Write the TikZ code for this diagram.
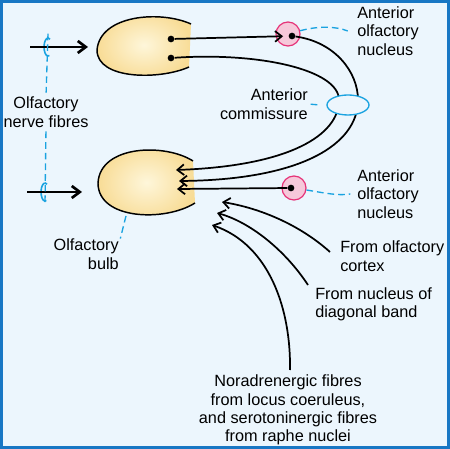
\documentclass[tikz,border=0pt]{standalone}
\usepackage{fontspec}
\setmainfont{Liberation Sans}
\usetikzlibrary{arrows.meta}
\definecolor{framecol}{RGB}{24,119,196}
\definecolor{bgcol}{RGB}{236,246,253}
\definecolor{leadcol}{RGB}{26,163,224}
\definecolor{bulbcol}{RGB}{248,220,150}
\definecolor{bulbin}{RGB}{254,246,218}
\definecolor{nuccol}{RGB}{230,50,120}
\definecolor{nucfill}{RGB}{246,200,218}
\tikzset{
  axon/.style={line width=1.3pt,-{Straight Barb[length=5pt,width=8pt]}},
  nerve/.style={line width=2pt,-{Straight Barb[length=6pt,width=9pt]}},
  leader/.style={leadcol,line width=1pt,dash pattern=on 5pt off 3pt},
  lbl/.style={font=\fontsize{12.2}{13.8}\selectfont,inner sep=0pt},
  dot/.style={circle,fill=black,inner sep=0pt,minimum size=5pt},
  nuc/.style={circle,draw=nuccol,fill=nucfill,line width=0.9pt,minimum size=18pt,inner sep=0pt},
}

\begin{document}
\begin{tikzpicture}[x=0.75pt,y=-0.75pt]
\useasboundingbox (0,0) rectangle (450,449);
% frame
\fill[bgcol] (0,0) rectangle (450,449);
\draw[framecol,line width=2.2pt] (1.5,1.5) rectangle (448.5,447.5);
% olfactory bulbs
\shade[inner color=bulbin,outer color=bulbcol] (191,24) .. controls (160,10) and (100,15) .. (97,50) .. controls (97,80) and (160,80) .. (189,67) -- cycle;
\draw[line width=1.1pt] (191,24) .. controls (160,10) and (100,15) .. (97,50) .. controls (97,80) and (160,80) .. (189,67);
\shade[inner color=bulbin,outer color=bulbcol] (193,161) .. controls (165,143) and (100,145) .. (98,183) .. controls (98,220) and (165,222) .. (195,203) -- cycle;
\draw[line width=1.1pt] (193,161) .. controls (165,143) and (100,145) .. (98,183) .. controls (98,220) and (165,222) .. (195,203);
% cells and nuclei
\node[dot] (dA) at (171,39) {};
\node[dot] (dB) at (171,58) {};
\node[nuc] (nA) at (288,34) {};
\node[dot] (nAd) at (292,36) {};
\node[nuc] (nB) at (294,188) {};
\node[dot] (nBd) at (291,188) {};
\coordinate (com) at (348,105);
\coordinate (fB1) at (176,170);
\coordinate (fB2) at (179,181);
\coordinate (fB3) at (177,189);
% fibres to the other bulb
\draw[axon,shorten >=4pt] (dA) -- (nAd);
\draw[axon] (nAd) .. controls (335,42) and (358,72) .. (358,100) .. controls (358,145) and (300,180) .. (fB2);
\draw[axon] (dB) .. controls (260,52) and (339,70) .. (339,100) .. controls (339,135) and (290,166) .. (fB1);
\draw[axon] (nBd) -- (fB3);
% anterior commissure
\draw[leadcol,fill=bgcol,line width=1pt] (com) ellipse (21 and 10);
% centrifugal fibres
\coordinate (ctx) at (330,252);
\coordinate (dgb) at (308,285);
\coordinate (nor) at (290,370);
\coordinate (t1) at (222,202);
\coordinate (t2) at (217,213);
\coordinate (t3) at (212,225);
\draw[axon] (ctx) .. controls (300,225) and (260,208) .. (t1);
\draw[axon] (dgb) .. controls (285,250) and (250,222) .. (t2);
\draw[axon] (nor) .. controls (291,310) and (270,245) .. (t3);
% olfactory nerve fibres
\coordinate (nf1) at (30,47);
\coordinate (nf1e) at (88,47);
\coordinate (nf2) at (27,192);
\coordinate (nf2e) at (82,192);
\coordinate (c1) at (48,47);
\coordinate (c2) at (45,192);
\draw[leadcol,line width=1.2pt] (c1) ++(1.4,8.5) arc (70:300:4 and 9);
\draw[leadcol,line width=1.2pt] (c2) ++(1.4,8.5) arc (70:300:4 and 9);
\draw[nerve] (nf1) -- (nf1e);
\draw[nerve] (nf2) -- (nf2e);
% labels
\node[lbl,align=left,anchor=west] (lblA) at (357,31) {Anterior\\olfactory\\nucleus};
\node[lbl,align=right,anchor=east] (lblC) at (308,104) {Anterior\\commissure};
\node[lbl,align=left,anchor=west] (lblB) at (357,194) {Anterior\\olfactory\\nucleus};
\node[lbl,align=center] (lblN) at (46,112) {Olfactory\\nerve fibres};
\node[lbl,align=right,anchor=east] (lblO) at (119,254) {Olfactory\\bulb};
\node[lbl,align=left,anchor=west] (lblX) at (340,256) {From olfactory\\cortex};
\node[lbl,align=left,anchor=west] (lblD) at (315,304) {From nucleus of\\diagonal band};
\node[lbl,align=center] (lblR) at (288,410) {Noradrenergic fibres\\from locus coeruleus,\\and serotoninergic fibres\\from raphe nuclei};
% leaders
\draw[leader] (nA) .. controls (318,26) and (335,26) .. ([xshift=-7pt]lblA.west);
\draw[leader] (nB) .. controls (325,193) and (338,196) .. ([xshift=-5pt]lblB.west);
\draw[leader,shorten <=2pt] (lblC.east) -- ([xshift=-21]com);
\draw[leader] (126,216) -- ([xshift=1]lblO.north east);
\draw[leader,shorten >=3pt] ([yshift=10]c1) -- (lblN.north);
\draw[leader,shorten <=3pt] (lblN.south) -- ([yshift=-9]c2);
\end{tikzpicture}
\end{document}
